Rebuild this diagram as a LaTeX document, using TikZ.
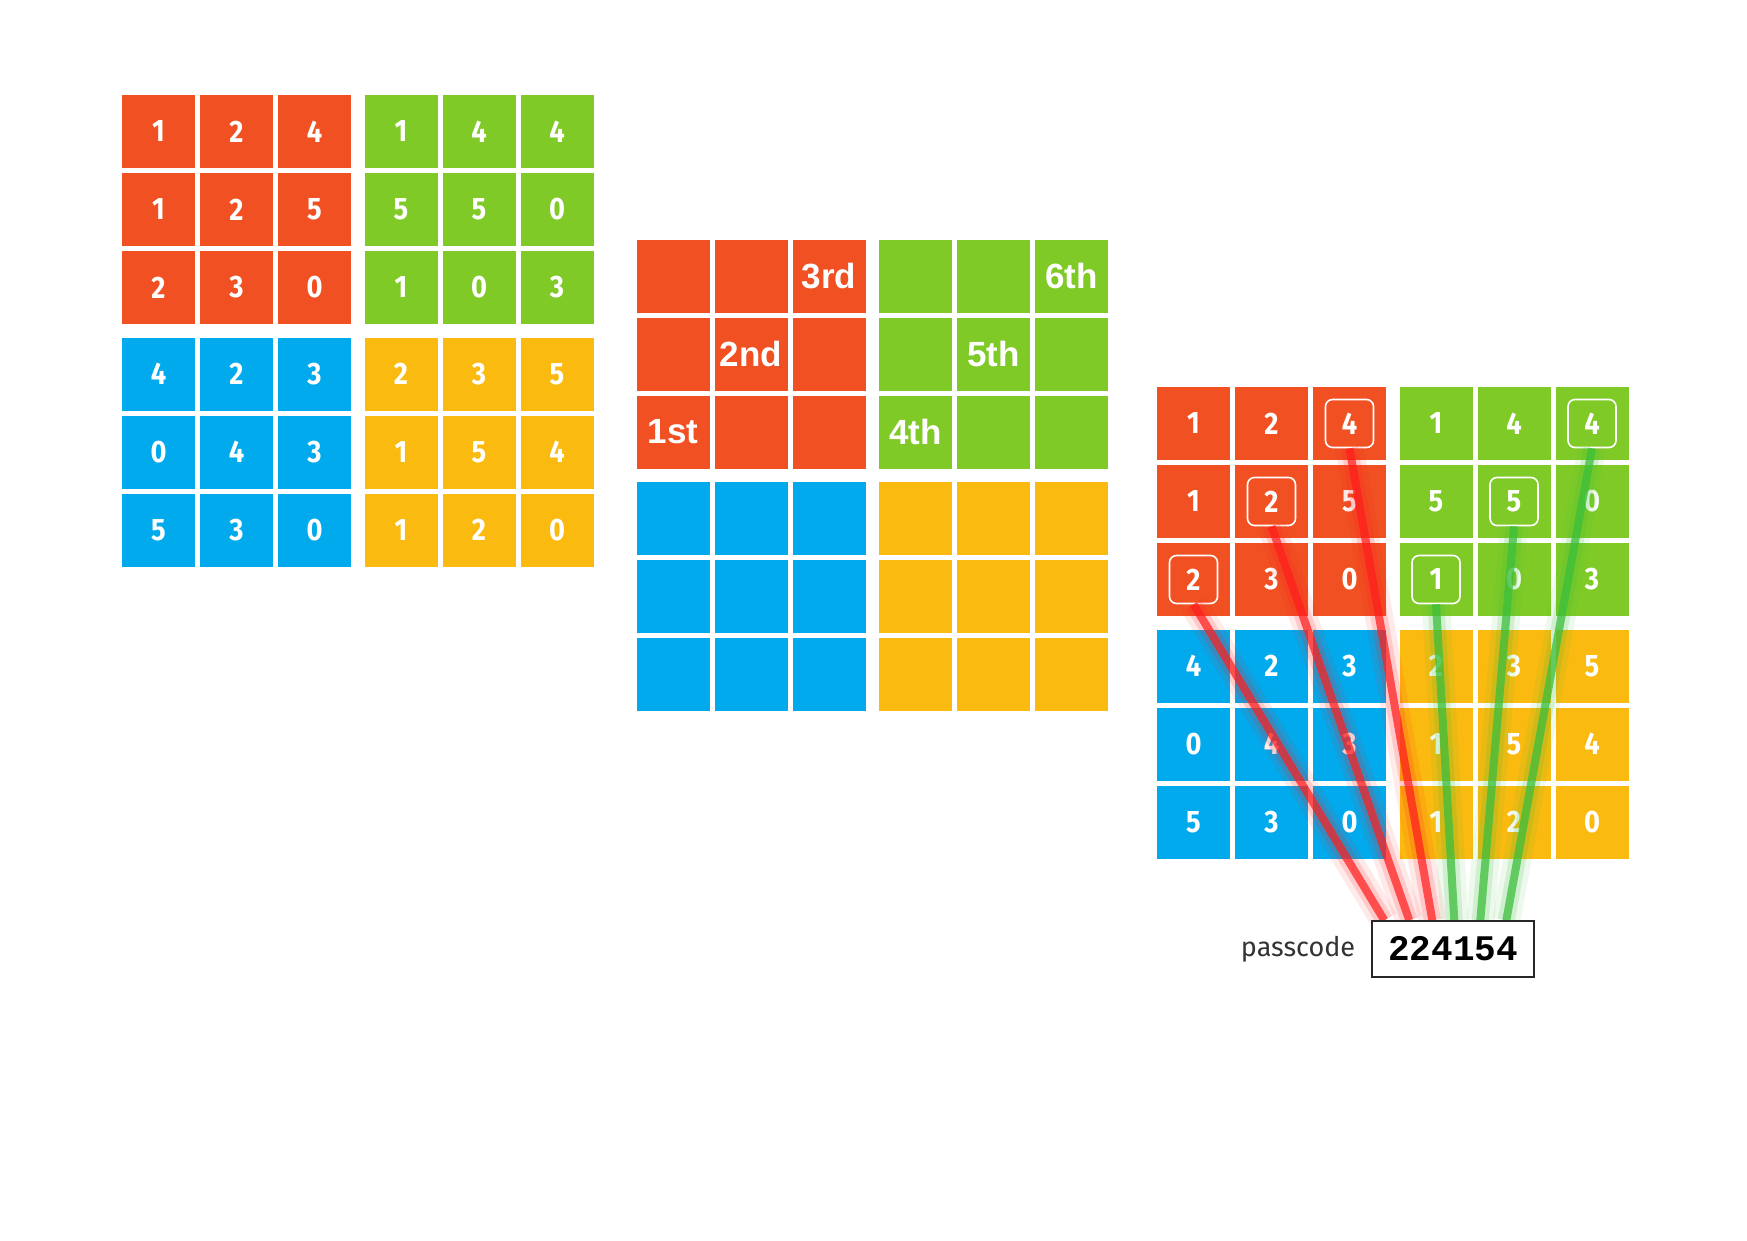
\documentclass[tikz,border=0pt]{standalone}
\usepackage{fontspec}
\setmainfont{Fira Sans}
\newfontfamily\digfont{Fira Sans}[FakeStretch=0.88]
\newfontfamily\ordfont{Liberation Sans}
\newfontfamily\pcmono{Liberation Mono}
\usetikzlibrary{calc}
\definecolor{cred}{HTML}{F05022}
\definecolor{cgreen}{HTML}{80CA28}
\definecolor{cblue}{HTML}{00AAEC}
\definecolor{cyellow}{HTML}{FBBA0F}
\definecolor{lred}{HTML}{FF1E1E}
\definecolor{lgreen}{HTML}{3CBF3C}
\definecolor{pcgray}{HTML}{333333}
\tikzset{
  cell/.style={minimum size=73pt, inner sep=0pt, text=white, font=\digfont\bfseries\fontsize{31}{36}\selectfont},
  ordtxt/.style={font=\ordfont\bfseries\fontsize{35}{40}\selectfont},
  plain/.style={},
  hlbox/.style={draw=white, line width=1.6pt, rounded corners=7pt, minimum size=48pt, inner sep=0pt},
  redconn/.style={draw=lred, line width=8pt, draw opacity=0.72,
    preaction={draw=lred, line width=28pt, draw opacity=0.09},
    preaction={draw=lred, line width=17pt, draw opacity=0.16}},
  greenconn/.style={draw=lgreen, line width=8pt, draw opacity=0.75,
    preaction={draw=lgreen, line width=28pt, draw opacity=0.09},
    preaction={draw=lgreen, line width=17pt, draw opacity=0.16}},
  pcbox/.style={draw=black!85, line width=1.4pt, fill=white, minimum width=162pt, minimum height=56pt,
    inner sep=0pt, font=\pcmono\bfseries\fontsize{36}{40}\selectfont},
  pclabel/.style={inner sep=0pt, text=pcgray, font=\fontsize{27}{32}\selectfont},
}
% name, x0, y0, colour, style, row0, row1, row2
\newcommand{\qd}[8]{%
  \foreach \d [count=\i from 0] in {#6} {\node[cell,fill=#4,#5] (#1-\i-0) at ({#2+\i*78+36.5},{#3+36.5}) {\d};}
  \foreach \d [count=\i from 0] in {#7} {\node[cell,fill=#4,#5] (#1-\i-1) at ({#2+\i*78+36.5},{#3+114.5}) {\d};}
  \foreach \d [count=\i from 0] in {#8} {\node[cell,fill=#4,#5] (#1-\i-2) at ({#2+\i*78+36.5},{#3+192.5}) {\d};}
}
\begin{document}
\begin{tikzpicture}[x=1pt,y=-1pt]
\useasboundingbox[fill=white] (0,0) rectangle (1747,1240);
% grid 1
\qd{a-r}{122}{95}{cred}{plain}{1,2,4}{1,2,5}{2,3,0}
\qd{a-g}{364.5}{95}{cgreen}{plain}{1,4,4}{5,5,0}{1,0,3}
\qd{a-b}{122}{337.5}{cblue}{plain}{4,2,3}{0,4,3}{5,3,0}
\qd{a-y}{364.5}{337.5}{cyellow}{plain}{2,3,5}{1,5,4}{1,2,0}
% grid 2
\qd{b-r}{636.5}{239.5}{cred}{ordtxt}{{},{},3rd}{{},2nd,{}}{1st,{},{}}
\qd{b-g}{879}{239.5}{cgreen}{ordtxt}{{},{},6th}{{},5th,{}}{4th,{},{}}
\qd{b-b}{636.5}{482}{cblue}{ordtxt}{{},{},{}}{{},{},{}}{{},{},{}}
\qd{b-y}{879}{482}{cyellow}{ordtxt}{{},{},{}}{{},{},{}}{{},{},{}}
% grid 3
\qd{c-r}{1157}{387}{cred}{plain}{1,2,4}{1,2,5}{2,3,0}
\qd{c-g}{1399.5}{387}{cgreen}{plain}{1,4,4}{5,5,0}{1,0,3}
\qd{c-b}{1157}{629.5}{cblue}{plain}{4,2,3}{0,4,3}{5,3,0}
\qd{c-y}{1399.5}{629.5}{cyellow}{plain}{2,3,5}{1,5,4}{1,2,0}
% highlights
\node[hlbox] (h1) at (c-r-0-2) {};
\node[hlbox] (h2) at (c-r-1-1) {};
\node[hlbox] (h3) at (c-r-2-0) {};
\node[hlbox] (h4) at (c-g-0-2) {};
\node[hlbox] (h5) at (c-g-1-1) {};
\node[hlbox] (h6) at (c-g-2-0) {};
% passcode
\path (1453,949) node[pcbox] (pc) {};
\coordinate (e1) at ($(pc.north west)+(13,0)$);
\coordinate (e2) at ($(pc.north west)+(38,0)$);
\coordinate (e3) at ($(pc.north west)+(61,0)$);
\coordinate (e4) at ($(pc.north west)+(83,0)$);
\coordinate (e5) at ($(pc.north west)+(109,0)$);
\coordinate (e6) at ($(pc.north west)+(135,0)$);
\draw[redconn] (h1.south) -- (e1);
\draw[redconn] (h2.south) -- (e2);
\draw[redconn] (h3.south) -- (e3);
\draw[greenconn] (h4.south) -- (e4);
\draw[greenconn] (h5.south) -- (e5);
\draw[greenconn] (h6.south) -- (e6);
\node[pcbox] (pcb) at (pc) {224154};
\node[pclabel, anchor=east] (pl) at ($(pc.west)+(-16,0)$) {passcode};
\end{tikzpicture}
\end{document}
